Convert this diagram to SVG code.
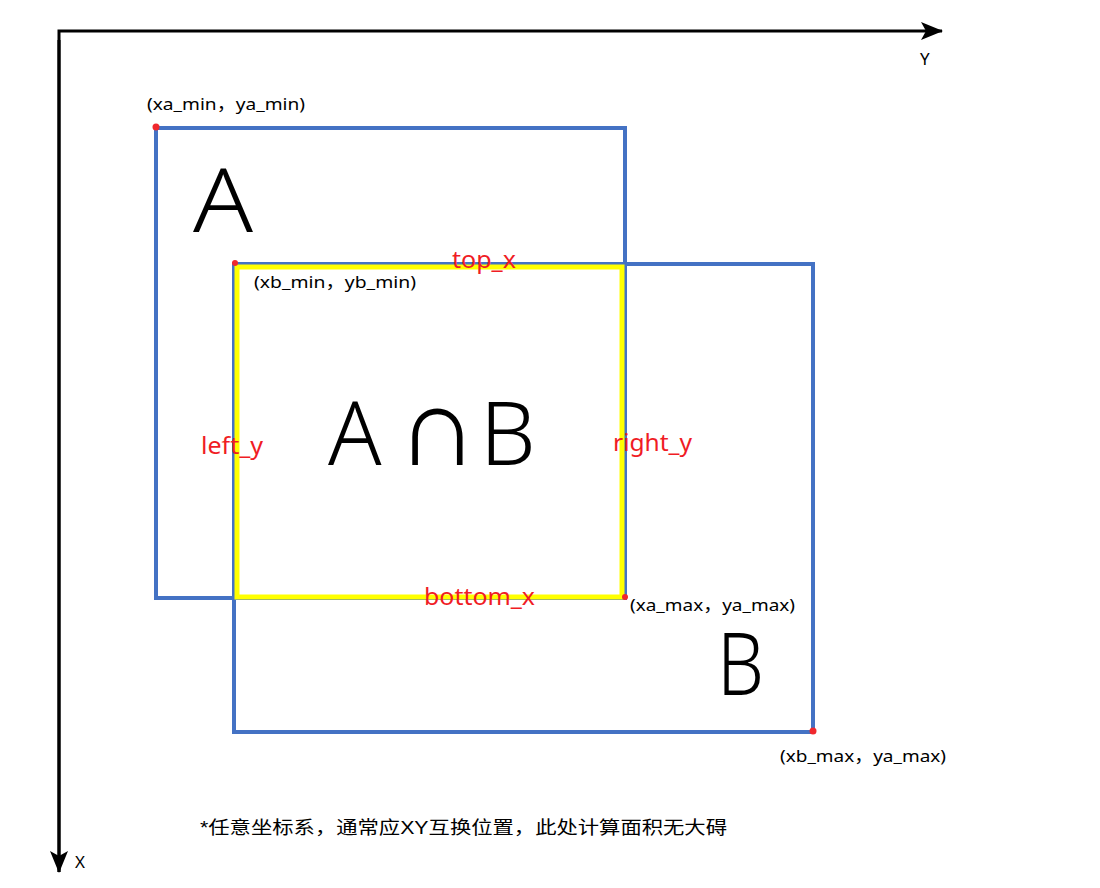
<svg xmlns="http://www.w3.org/2000/svg" width="1100" height="888" viewBox="0 0 1100 888">
<style>
.lbl{font-family:"Noto Sans","Liberation Sans","Noto Sans CJK SC",sans-serif;font-size:17px;fill:#000}
.red{font-family:"Noto Sans","Liberation Sans",sans-serif;font-size:23px;fill:#f01c24}
.big{font-family:"Noto Sans","Liberation Sans",sans-serif;font-weight:300;fill:#000}
.box{fill:none;stroke:#4472c4;stroke-width:4}
.dot{fill:#f0282d}
.axis{stroke:#000;stroke-width:3;fill:none}
</style>
<defs>
<marker id="ah2" markerWidth="22" markerHeight="18" refX="21" refY="9" orient="auto" markerUnits="userSpaceOnUse">
<path d="M0,0 L22,9 L0,18 L5,9 z" fill="#000"/>
</marker>
</defs>
<g id="connectors">
<path class="axis" d="M59,872 L59,31 L942,31" marker-end="url(#ah2)"/>
<path class="axis" d="M59,40 L59,872" marker-end="url(#ah2)"/>
</g>
<g id="rectA">
<rect class="box" x="156" y="128" width="469" height="470"/>
<text class="big" x="193" y="232" font-size="88" textLength="60" lengthAdjust="spacingAndGlyphs">A</text>
<circle class="dot" cx="156" cy="127" r="3.5"/>
<text class="lbl" x="147" y="110" textLength="158" lengthAdjust="spacingAndGlyphs">(xa_min，ya_min)</text>
</g>
<g id="rectB">
<rect class="box" x="234" y="264" width="579" height="468"/>
<text class="big" x="717" y="695" font-size="86" textLength="47" lengthAdjust="spacingAndGlyphs">B</text>
<circle class="dot" cx="813" cy="731" r="3.5"/>
<text class="lbl" x="780" y="762" textLength="166" lengthAdjust="spacingAndGlyphs">(xb_max，ya_max)</text>
</g>
<g id="intersection">
<rect x="237" y="267" width="385" height="330" fill="none" stroke="#ffff00" stroke-width="5"/>
<text class="big" y="465" font-size="88"><tspan x="328">A</tspan><tspan x="397" font-size="112">∩</tspan><tspan x="480">B</tspan></text>
<circle class="dot" cx="235" cy="263" r="3"/>
<circle class="dot" cx="625" cy="597" r="3"/>
<text class="lbl" x="254" y="288" textLength="162" lengthAdjust="spacingAndGlyphs">(xb_min，yb_min)</text>
<text class="lbl" x="630" y="611" textLength="165" lengthAdjust="spacingAndGlyphs">(xa_max，ya_max)</text>
<text class="red" x="452" y="268" textLength="64" lengthAdjust="spacingAndGlyphs">top_x</text>
<text class="red" x="201" y="454" textLength="62" lengthAdjust="spacingAndGlyphs">left_y</text>
<text class="red" x="613" y="451" textLength="79" lengthAdjust="spacingAndGlyphs">right_y</text>
<text class="red" x="424" y="605" textLength="111" lengthAdjust="spacingAndGlyphs">bottom_x</text>
</g>
<g id="axes-labels">
<text class="lbl" x="920" y="65">Y</text>
<text class="lbl" x="75" y="868">X</text>
<text x="200" y="834" textLength="527" lengthAdjust="spacingAndGlyphs" style="font-family:'Liberation Sans','Noto Sans CJK SC',sans-serif;font-size:18px;fill:#000">*任意坐标系，通常应XY互换位置，此处计算面积无大碍</text>
</g>
</svg>
